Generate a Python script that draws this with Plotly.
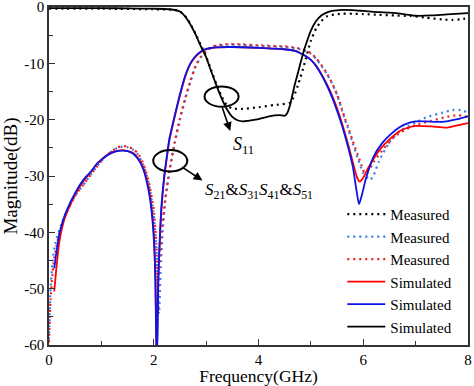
import plotly.graph_objects as go

# ---------------- data ----------------
s11_sim_f = [0, 0.5, 1.0, 1.5, 2.0, 2.3, 2.5, 2.6, 2.7, 2.8, 2.9, 3.0, 3.1, 3.2, 3.3, 3.4, 3.5, 3.6, 3.7,
             3.8, 4.0, 4.2, 4.4, 4.5, 4.55, 4.6, 4.65, 4.7, 4.75, 4.8, 4.85, 4.9, 5.0, 5.1, 5.2, 5.3, 5.4,
             5.6, 5.8, 6.0, 6.2, 6.5, 6.8, 7.0, 7.3, 7.6, 8.0]
s11_sim_db = [-0.2, -0.2, -0.2, -0.25, -0.3, -0.4, -0.8, -1.7, -3.1, -4.9, -7.0, -8.9, -11.5, -14.0, -16.3,
              -18.2, -19.5, -20.1, -20.3, -20.2, -19.9, -19.4, -19.2, -19.3, -18.8, -17.5, -15.5, -13.5,
              -11.8, -10.0, -8.3, -6.8, -4.2, -2.5, -1.5, -1.0, -0.7, -0.5, -0.55, -0.7, -0.85, -1.0, -1.3,
              -1.55, -1.5, -1.3, -1.1]

s11_meas_f = [0, 1.0, 2.0, 2.4, 2.5, 2.6, 2.7, 2.8, 2.9, 3.0, 3.1, 3.2, 3.3, 3.4, 3.5, 3.7, 4.0, 4.3, 4.5,
              4.6, 4.65, 4.7, 4.75, 4.8, 4.85, 4.9, 5.0, 5.1, 5.2, 5.3, 5.4, 5.6, 5.8, 6.0, 6.3, 6.6, 6.9,
              7.2, 7.5, 7.7, 7.85, 8.0]
s11_meas_db = [-0.3, -0.3, -0.4, -0.5, -0.8, -1.6, -3.0, -4.8, -6.8, -8.8, -11.3, -13.8, -16.0, -17.5,
               -18.0, -18.1, -17.8, -17.4, -17.2, -17.0, -16.4, -15.3, -14.0, -12.5, -11.0, -9.3, -6.0,
               -3.8, -2.5, -1.7, -1.4, -1.2, -1.2, -1.25, -1.4, -1.5, -1.6, -1.9, -2.2, -2.3, -2.2, -2.0]

sxx_blue_sim_f = [0.1, 0.15, 0.2, 0.3, 0.4, 0.5, 0.6, 0.7, 0.8, 0.9, 1.0, 1.1, 1.2, 1.3, 1.4, 1.5, 1.6,
                  1.7, 1.8, 1.9, 1.95, 2.0, 2.03, 2.06, 2.09, 2.12, 2.15, 2.2, 2.25, 2.3, 2.4, 2.5, 2.6,
                  2.7, 2.8, 2.9, 3.0, 3.1, 3.2, 3.5, 4.0, 4.5, 4.7, 4.8, 4.9, 5.0, 5.1, 5.2, 5.3, 5.4,
                  5.5, 5.6, 5.7, 5.8, 5.87, 5.92, 5.97, 6.05, 6.2, 6.35, 6.5, 6.7, 6.9, 7.0, 7.2, 7.5,
                  7.8, 8.0]
sxx_blue_sim_db = [-46.4, -43.0, -40.2, -37.0, -34.8, -33.0, -31.4, -30.2, -29.2, -28.0, -27.1, -26.4,
                   -25.9, -25.6, -25.5, -25.6, -26.0, -27.0, -28.8, -32.5, -35.5, -41.0, -48.0, -64.0,
                   -48.0, -40.0, -35.0, -30.0, -26.5, -23.3, -19.3, -15.5, -12.2, -10.0, -8.7, -7.9,
                   -7.45, -7.25, -7.15, -7.1, -7.25, -7.5, -7.8, -8.2, -8.7, -9.4, -10.5, -12.0, -13.8,
                   -15.9, -18.4, -21.2, -24.5, -28.3, -32.5, -35.0, -33.5, -30.5, -26.5, -24.3, -22.8,
                   -21.3, -20.5, -20.3, -20.3, -20.4, -19.9, -19.4]

sxx_red_sim_f = [0.1, 0.15, 0.2, 0.3, 0.4, 0.5, 0.6, 0.7, 0.8, 0.9, 1.0, 1.2, 1.4, 1.6, 1.7, 1.8, 1.9,
                 1.95, 2.0, 2.03, 2.055, 2.085, 2.12, 2.15, 2.2, 2.25, 2.3, 2.4, 2.5, 2.6, 2.7, 2.8, 2.9,
                 3.0, 3.1, 3.2, 3.5, 4.0, 4.5, 4.7, 4.8, 4.9, 5.0, 5.1, 5.2, 5.3, 5.4, 5.5, 5.6, 5.7,
                 5.8, 5.88, 5.93, 6.0, 6.1, 6.3, 6.5, 6.7, 6.9, 7.0, 7.3, 7.6, 7.8, 8.0]
sxx_red_sim_db = [-50.5, -45.5, -41.5, -37.5, -35.2, -33.3, -31.7, -30.4, -29.3, -28.0, -27.1, -25.8,
                  -25.4, -25.9, -26.8, -28.5, -32.0, -35.0, -40.0, -48.0, -64.0, -48.0, -40.5, -35.5,
                  -30.3, -26.8, -23.6, -19.5, -15.7, -12.4, -10.1, -8.8, -8.0, -7.5, -7.25, -7.15, -7.1,
                  -7.25, -7.5, -7.8, -8.2, -8.7, -9.4, -10.4, -11.9, -13.6, -15.6, -18.0, -20.8, -24.0,
                  -27.5, -30.2, -31.0, -30.3, -28.5, -25.5, -23.5, -22.0, -21.3, -21.1, -21.2, -21.4,
                  -21.0, -20.6]

sxx_blue_meas_f = [0.0, 0.03, 0.07, 0.12, 0.2, 0.3, 0.5, 0.7, 0.9, 1.1, 1.3, 1.4, 1.5, 1.6, 1.7, 1.8,
                   1.9, 2.0, 2.05, 2.1, 2.13, 2.17, 2.22, 2.3, 2.4, 2.5, 2.6, 2.7, 2.8, 2.9, 3.0, 3.1,
                   3.2, 3.4, 3.6, 4.0, 4.5, 4.7, 4.9, 5.0, 5.1, 5.2, 5.3, 5.4, 5.5, 5.6, 5.65, 5.7,
                   5.8, 5.9, 6.0, 6.13, 6.2, 6.3, 6.5, 6.7, 7.0, 7.2, 7.5, 7.7, 7.85, 8.0]
sxx_blue_meas_db = [-59.0, -50.0, -45.0, -42.0, -39.5, -37.0, -33.5, -31.0, -28.5, -26.3, -25.0, -24.8,
                    -24.9, -25.3, -26.2, -28.0, -31.0, -37.0, -43.0, -54.5, -47.0, -40.0, -34.5, -29.2,
                    -24.2, -20.0, -16.4, -13.3, -10.5, -8.9, -7.9, -7.2, -6.9, -6.7, -6.7, -6.9, -7.1,
                    -7.3, -7.8, -8.3, -9.2, -10.4, -11.8, -13.5, -15.6, -18.5, -20.0, -21.3, -24.2,
                    -27.0, -29.5, -30.7, -29.8, -27.4, -24.0, -22.0, -20.5, -19.6, -18.8, -18.3, -18.3,
                    -18.7]

sxx_red_meas_f = [0.0, 0.03, 0.07, 0.12, 0.2, 0.3, 0.5, 0.7, 0.9, 1.1, 1.3, 1.4, 1.5, 1.6, 1.7, 1.8,
                  1.9, 2.0, 2.05, 2.08, 2.11, 2.15, 2.22, 2.3, 2.4, 2.5, 2.6, 2.7, 2.8, 2.9, 3.0, 3.1,
                  3.2, 3.4, 3.6, 4.0, 4.5, 4.7, 4.9, 5.0, 5.1, 5.2, 5.3, 5.4, 5.5, 5.6, 5.65, 5.7,
                  5.8, 5.9, 5.97, 6.03, 6.1, 6.2, 6.4, 6.6, 6.8, 7.0, 7.3, 7.6, 7.8, 8.0]
sxx_red_meas_db = [-59.5, -52.0, -47.0, -43.5, -40.0, -37.3, -33.5, -31.0, -28.5, -26.3, -25.0, -24.7,
                   -24.8, -25.2, -26.0, -27.8, -30.8, -36.0, -42.0, -50.0, -45.0, -40.0, -34.0, -29.0,
                   -24.0, -19.8, -16.2, -13.1, -10.4, -8.8, -7.8, -7.1, -6.8, -6.6, -6.6, -6.8, -7.0,
                   -7.2, -7.7, -8.2, -9.1, -10.3, -11.7, -13.4, -15.5, -18.3, -19.8, -21.0, -23.8,
                   -26.3, -28.2, -29.5, -29.0, -27.5, -25.0, -23.0, -21.8, -21.0, -20.2, -19.5, -19.2,
                   -19.5]

x_tick_vals = [0, 2, 4, 6, 8]
x_tick_text = ["0", "2", "4", "6", "8"]
y_tick_vals = [0, -10, -20, -30, -40, -50, -60]
y_tick_text = ["0", "-10", "-20", "-30", "-40", "-50", "-60"]

# ---------------- figure ----------------
FONT = "Liberation Serif, Times New Roman, serif"
DOT = "2px,4px"

fig = go.Figure()

series = [
    (s11_meas_f, s11_meas_db, "Measured", "#000000", DOT),
    (sxx_blue_meas_f, sxx_blue_meas_db, "Measured", "#3a7ae6", DOT),
    (sxx_red_meas_f, sxx_red_meas_db, "Measured", "#ee2020", DOT),
    (sxx_red_sim_f, sxx_red_sim_db, "Simulated", "#ff0000", "solid"),
    (sxx_blue_sim_f, sxx_blue_sim_db, "Simulated", "#0a14e6", "solid"),
    (s11_sim_f, s11_sim_db, "Simulated", "#000000", "solid"),
]
for f, db, name, color, dash in series:
    fig.add_trace(go.Scatter(
        x=f, y=db, mode="lines", name=name,
        line=dict(color=color, width=2.2 if dash != "solid" else 1.8, dash=dash,
                  shape="spline", smoothing=0.6),
    ))

# ellipses
fig.add_shape(type="circle", xref="x", yref="y", x0=2.97, x1=3.62, y0=-17.7, y1=-14.1,
              line=dict(color="black", width=2))
fig.add_shape(type="circle", xref="x", yref="y", x0=1.99, x1=2.64, y0=-29.2, y1=-25.4,
              line=dict(color="black", width=2))

# arrows
fig.add_annotation(x=3.46, y=-22.0, ax=3.30, ay=-17.6, xref="x", yref="y", axref="x", ayref="y",
                   text="", showarrow=True, arrowhead=2, arrowsize=1.1, arrowwidth=1.6,
                   arrowcolor="black")
fig.add_annotation(x=2.93, y=-30.8, ax=2.52, ay=-28.3, xref="x", yref="y", axref="x", ayref="y",
                   text="", showarrow=True, arrowhead=2, arrowsize=1.1, arrowwidth=1.6,
                   arrowcolor="black")

# labels
fig.add_annotation(x=3.47, y=-24.5, xref="x", yref="y", xanchor="left", yanchor="middle",
                   text="<i>S</i><sub>11</sub>", showarrow=False,
                   font=dict(family=FONT, size=18, color="black"))
fig.add_annotation(x=2.94, y=-32.6, xref="x", yref="y", xanchor="left", yanchor="middle",
                   text="<i>S</i><sub>21</sub>&amp;<i>S</i><sub>31</sub><i>S</i><sub>41</sub>&amp;<i>S</i><sub>51</sub>",
                   showarrow=False, font=dict(family=FONT, size=17, color="black"))

axis_common = dict(showline=True, linecolor="#333333", linewidth=1.5, mirror=True,
                   ticks="inside", ticklen=6, tickwidth=1.2, tickcolor="#333333",
                   showgrid=False, zeroline=False, automargin=False,
                   ticklabeloverflow="allow",
                   tickfont=dict(family=FONT, size=15, color="black"))

fig.update_xaxes(range=[0, 8], tickvals=x_tick_vals, ticktext=x_tick_text,
                 minor=dict(tickvals=[1, 3, 5, 7], ticks="inside", ticklen=4, tickcolor="#333333"),
                 title=dict(text="Frequency(GHz)", font=dict(family=FONT, size=17.5, color="black"),
                            standoff=0),
                 **axis_common)
fig.update_yaxes(range=[-60, 0], tickvals=y_tick_vals, ticktext=y_tick_text,
                 minor=dict(tickvals=[-5, -15, -25, -35, -45, -55], ticks="inside", ticklen=4,
                            tickcolor="#333333"),
                 title=dict(text="Magnitude(dB)", font=dict(family=FONT, size=19, color="black"),
                            standoff=4),
                 **axis_common)

fig.update_layout(
    template="none",
    width=474, height=386,
    margin=dict(l=49, r=6, t=7, b=41, autoexpand=False),
    paper_bgcolor="white", plot_bgcolor="white",
    showlegend=True,
    legend=dict(x=0.70, y=0.435, xanchor="left", yanchor="top", bgcolor="rgba(0,0,0,0)",
                font=dict(family=FONT, size=15, color="black"), borderwidth=0,
                itemwidth=38, tracegroupgap=0),
)

fig.write_html("out.html", config={"displayModeBar": False},
               post_script="document.body.style.margin='0';document.body.style.padding='0';"
                           "document.documentElement.style.overflow='hidden';")
